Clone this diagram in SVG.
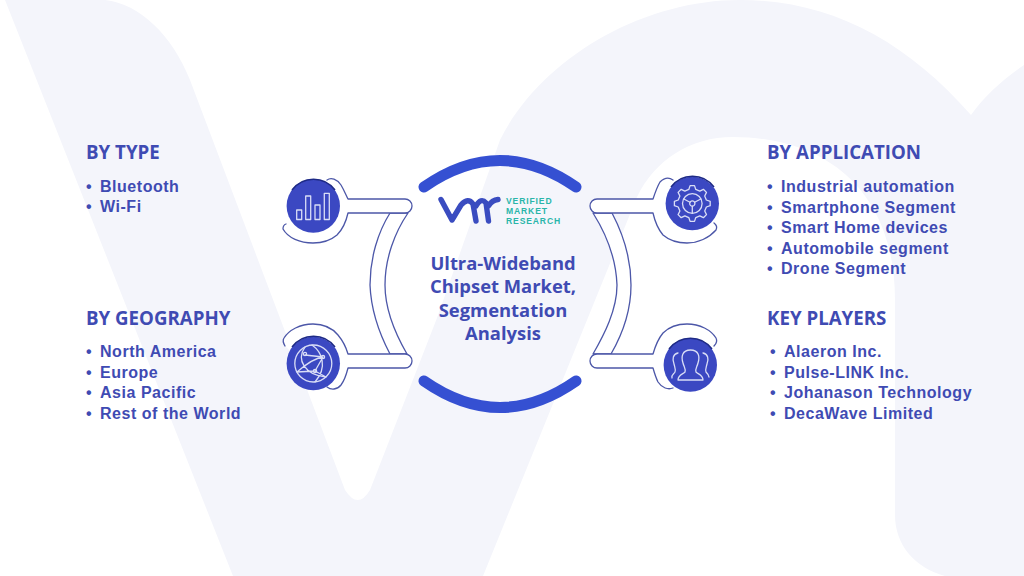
<svg xmlns="http://www.w3.org/2000/svg" width="1024" height="576" viewBox="0 0 1024 576">
<style>
.wm{fill:#f4f5fb}
.h{font:700 18.7px "Open Sans","Liberation Sans",sans-serif;fill:#3f4bb3}
.li{font:700 16px "Liberation Sans",Arial,sans-serif;fill:#3f4bb3;letter-spacing:.53px}
.t{font:700 18.4px "Open Sans","Liberation Sans",sans-serif;fill:#3f4bb3;text-anchor:middle}
.lg{font:700 8.6px "Liberation Sans",Arial,sans-serif;fill:#2ab5aa;letter-spacing:.85px}
.c{fill:#fff;stroke:#4c57a8;stroke-width:1.3;stroke-linejoin:round;stroke-linecap:round}
.d{fill:#3b48c2}
.s{fill:none;stroke:#1e2a86;stroke-width:1.5}
.i{fill:none;stroke:#d9ddf6;stroke-width:1.3;stroke-linejoin:round;stroke-linecap:round}
.a{fill:none;stroke:#3550d2;stroke-width:11;stroke-linecap:round}
</style>
<rect width="1024" height="576" fill="#fff"/>
<g id="watermark">
<path class="wm" d="M5,0 H105 C140,4 172,35 190,80 L345,490 Q358,510 370,490 L437,318 L500,140 C540,60 640,0 740,0 C830,0 905,40 971,115 C985,95 1005,78 1024,65 V576 H945 C915,568 895,545 895,515 V300 C895,190 825,137 733,137 C690,137 655,160 637,197 L483,576 H233 Z"/>
</g>
<g id="connectors">
<path class="c" d="M390,213 C378,232 370,258 370,285 C371,310 380,335 390,354 H407 C396,335 385,310 385,285 C385,258 395,232 408,213 Z"/>
<path class="c" d="M593,213 C605,232 616,258 617,285 C617,310 604,335 593,354 H611 C622,335 631,310 631,285 C631,258 622,232 612,213 Z"/>
<path class="c" d="M327,180 C331,177 337,179 341,185 C344,190 346,195 348,199 H405 A7,7 0 0 1 405,213 H348 C346,222 342,230 337,235 C330,241 322,243 313,243 C300,243 288,238 283,229 Q283,225 286,224"/>
<path class="c" d="M285,346 Q282,341 284,338 C289,330 300,324 313,324 C325,324 333,329 338,335 C343,341 346,347 348,354 H405 A7,7 0 0 1 405,368 H348 C346,376 344,381 341,385 C337,390 331,390 327,387"/>
<path class="c" d="M673,180 C669,177 664,178 660,182 C657,187 655,193 653,199 H597 A7,7 0 0 0 597,213 H653 C655,222 658,229 663,235 C670,241 678,243 687,243 C698,243 709,238 716,230 Q718,226 714,223"/>
<path class="c" d="M714,346 Q718,342 716,338 C711,330 700,324 687,324 C676,324 668,328 663,333 C658,339 655,347 653,354 H597 A7,7 0 0 0 597,368 H653 C655,375 656,378 658,382 C662,388 668,390 673,388"/>
</g>
<g id="center">
<path class="a" d="M424,187 Q500,134 576,187"/>
<path class="a" d="M424,381 Q500,434 576,381"/>
<g id="logo">
<path d="M441,199.5 L452,220 L461,205 Q468,197 473,204 L476,221 M476,206 Q481,197 486,203 L488.5,221 M488.5,206 Q492,200 498,199.5" fill="none" stroke="#3a4cc0" stroke-width="5.4" stroke-linecap="round" stroke-linejoin="round"/>
<text class="lg" x="506" y="203.5">VERIFIED</text>
<text class="lg" x="506" y="213.8">MARKET</text>
<text class="lg" x="506" y="224">RESEARCH</text>
</g>
<text class="t" x="503" y="270">Ultra-Wideband</text>
<text class="t" x="503" y="293">Chipset Market,</text>
<text class="t" x="503" y="317">Segmentation</text>
<text class="t" x="503" y="340">Analysis</text>
</g>
<g id="node-type">
<circle class="d" cx="313.3" cy="206" r="26.7"/>
<path class="s" d="M292,190 A26.7,26.7 0 0 1 335,190"/>
<g class="i"><rect x="296.7" y="210" width="5" height="9.5"/><rect x="305.7" y="196" width="5" height="23.5"/><rect x="315" y="205" width="5" height="14.5"/><rect x="324.3" y="193.3" width="5" height="26.2"/></g>
</g>
<g id="node-geography">
<circle class="d" cx="313.3" cy="363.5" r="26.7"/>
<path class="s" d="M292,347 A26.7,26.7 0 0 1 335,347"/>
<g class="i"><circle cx="313.3" cy="363.5" r="18.5"/><path d="M305,347 C296,360 305,375 326,377 M312,345 C322,352 328,367 315,382 M297,372 C305,365 315,358 323,357 M305,355 L323,357 L315,371 L297,372 M315,371 L326,377"/><circle cx="305" cy="354" r="1.6"/><circle cx="323" cy="357" r="1.6"/><circle cx="315" cy="371" r="1.6"/></g>
</g>
<g id="node-application">
<circle class="d" cx="692.3" cy="203.5" r="26.7"/>
<path class="s" d="M671,187 A26.7,26.7 0 0 1 714,187"/>
<g class="i" transform="translate(692.3,203.5)"><polygon points="7.47,-12.42 11.1,-14.2 14.2,-11.1 12.42,-7.47 14.07,-3.5 17.9,-2.2 17.9,2.2 14.07,3.5 12.42,7.47 14.2,11.1 11.1,14.2 7.47,12.42 3.5,14.07 2.2,17.9 -2.2,17.9 -3.5,14.07 -7.47,12.42 -11.1,14.2 -14.2,11.1 -12.42,7.47 -14.07,3.5 -17.9,2.2 -17.9,-2.2 -14.07,-3.5 -12.42,-7.47 -14.2,-11.1 -11.1,-14.2 -7.47,-12.42 -3.5,-14.07 -2.2,-17.9 2.2,-17.9 3.5,-14.07"/><circle r="9.8"/><circle r="2.6"/><path d="M-8.5,-4.5 L-2.3,-1.2 M8.5,-4.5 L2.3,-1.2 M0,2.6 V9.5"/></g>
</g>
<g id="node-players">
<circle class="d" cx="690.3" cy="365" r="26.7"/>
<path class="s" d="M669,349 A26.7,26.7 0 0 1 712,349"/>
<g class="i"><path d="M678,380 C678,375 683,374 685,372 C686,369 684,367 683,363 C681,357 682,350 690.5,350 C699,350 700,357 698,363 C697,367 695,369 696,372 C698,374 703,375 703,380 Z"/><path d="M678,353 C673,354 672,359 674,364 C675,368 676,370 675,372 C674,374 671,375 672,378"/><path d="M703,353 C708,354 709,359 707,364 C706,368 705,370 706,372 C708,374 709,375 709,377"/></g>
</g>
<g id="by-type">
<text class="h" x="86" y="158.5">BY TYPE</text>
<text class="li" y="192"><tspan x="86">•</tspan><tspan x="100">Bluetooth</tspan></text>
<text class="li" y="212"><tspan x="86">•</tspan><tspan x="100">Wi-Fi</tspan></text>
</g>
<g id="by-geography">
<text class="h" x="86" y="324.5">BY GEOGRAPHY</text>
<text class="li" y="357"><tspan x="86">•</tspan><tspan x="100">North America</tspan></text>
<text class="li" y="377.5"><tspan x="86">•</tspan><tspan x="100">Europe</tspan></text>
<text class="li" y="398"><tspan x="86">•</tspan><tspan x="100">Asia Pacific</tspan></text>
<text class="li" y="418.5"><tspan x="86">•</tspan><tspan x="100">Rest of the World</tspan></text>
</g>
<g id="by-application">
<text class="h" x="767" y="158.5">BY APPLICATION</text>
<text class="li" y="192"><tspan x="767">•</tspan><tspan x="781">Industrial automation</tspan></text>
<text class="li" y="212.5"><tspan x="767">•</tspan><tspan x="781">Smartphone Segment</tspan></text>
<text class="li" y="233"><tspan x="767">•</tspan><tspan x="781">Smart Home devices</tspan></text>
<text class="li" y="253.5"><tspan x="767">•</tspan><tspan x="781">Automobile segment</tspan></text>
<text class="li" y="274"><tspan x="767">•</tspan><tspan x="781">Drone Segment</tspan></text>
</g>
<g id="key-players">
<text class="h" x="767" y="324.5">KEY PLAYERS</text>
<text class="li" y="357"><tspan x="770">•</tspan><tspan x="784">Alaeron Inc.</tspan></text>
<text class="li" y="377.5"><tspan x="770">•</tspan><tspan x="784">Pulse-LINK Inc.</tspan></text>
<text class="li" y="398"><tspan x="770">•</tspan><tspan x="784">Johanason Technology</tspan></text>
<text class="li" y="418.5"><tspan x="770">•</tspan><tspan x="784">DecaWave Limited</tspan></text>
</g>
</svg>
